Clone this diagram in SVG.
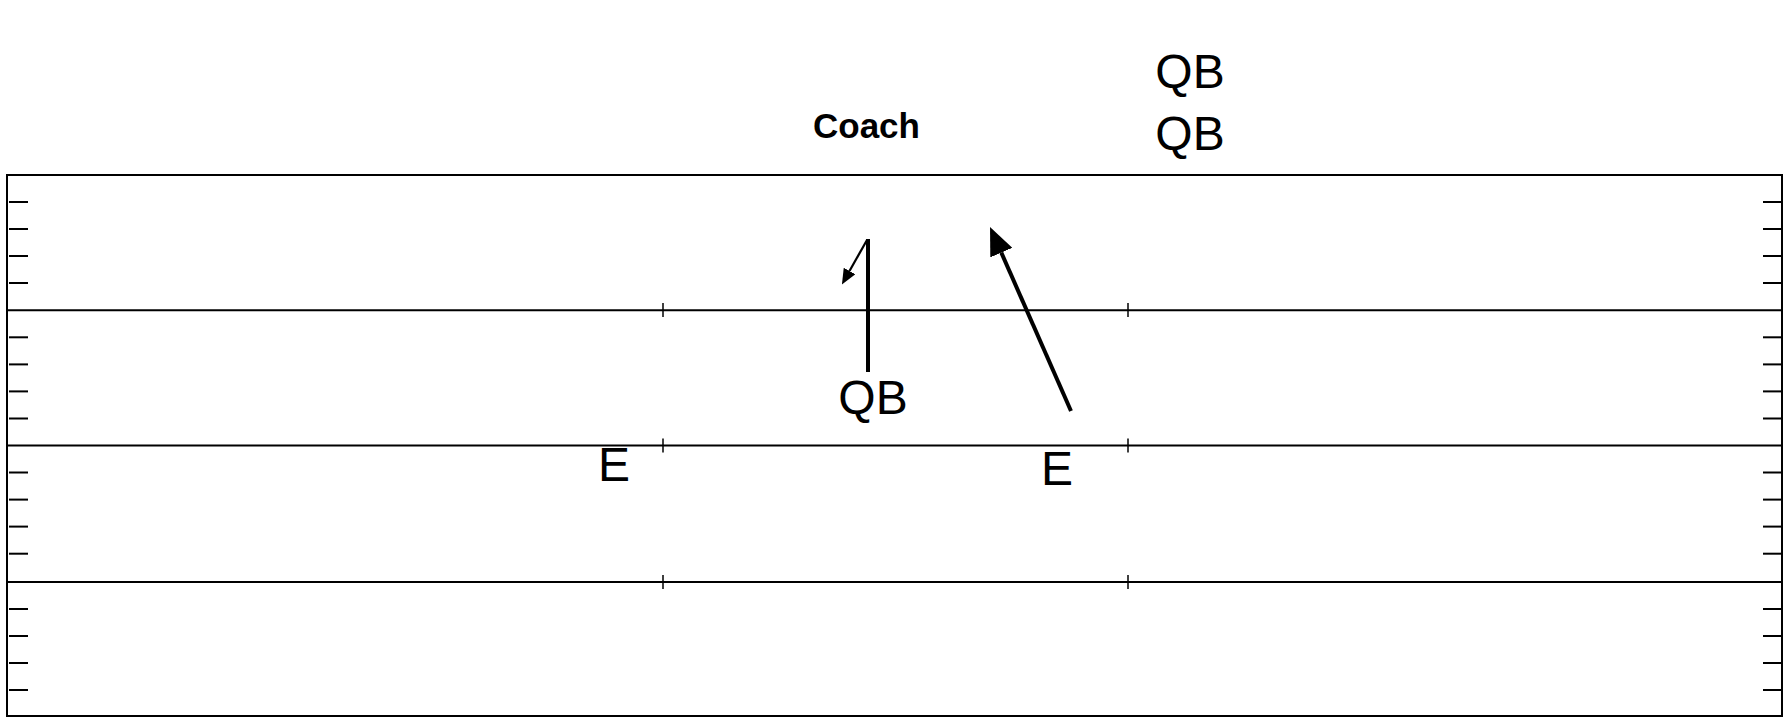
<svg xmlns="http://www.w3.org/2000/svg" width="1791" height="727" viewBox="0 0 1791 727">
  <style>
    .field { fill: none; stroke: #000; stroke-width: 2; }
    .yard { stroke: #000; stroke-width: 2; }
    .tick { stroke: #000; stroke-width: 2; }
    .hash { stroke: #000; stroke-width: 1.5; }
    .lbl { font-family: "Liberation Sans", Arial, sans-serif; font-size: 48px; fill: #000; text-anchor: middle; }
    .coach { font-family: "Liberation Sans", Arial, sans-serif; font-size: 35px; font-weight: bold; fill: #000; }
    .route { fill: none; stroke: #000; stroke-linecap: butt; }
  </style>
  <defs>
    <marker id="head" viewBox="0 0 7 6" refX="0" refY="3" markerWidth="7" markerHeight="6" markerUnits="strokeWidth" orient="auto">
      <path d="M0,0 L7,3 L0,6 Z" fill="#000"/>
    </marker>
  </defs>
  <rect width="1791" height="727" fill="#fff"/>

  <g id="field">
    <rect class="field" x="7" y="175" width="1775" height="541"/>
    <line class="yard" x1="7" y1="310.25" x2="1782" y2="310.25"/>
    <line class="yard" x1="7" y1="445.5" x2="1782" y2="445.5"/>
    <line class="yard" x1="7" y1="582" x2="1782" y2="582"/>
    <g id="hashes">
      <line class="hash" x1="663" y1="303" x2="663" y2="317"/>
      <line class="hash" x1="1128" y1="303" x2="1128" y2="317"/>
      <line class="hash" x1="663" y1="438.5" x2="663" y2="452.5"/>
      <line class="hash" x1="1128" y1="438.5" x2="1128" y2="452.5"/>
      <line class="hash" x1="663" y1="575" x2="663" y2="589"/>
      <line class="hash" x1="1128" y1="575" x2="1128" y2="589"/>
    </g>
    <g id="left-ticks">
      <line class="tick" x1="9" y1="202" x2="28" y2="202"/>
      <line class="tick" x1="9" y1="229" x2="28" y2="229"/>
      <line class="tick" x1="9" y1="256" x2="28" y2="256"/>
      <line class="tick" x1="9" y1="283" x2="28" y2="283"/>
      <line class="tick" x1="9" y1="337.3" x2="28" y2="337.3"/>
      <line class="tick" x1="9" y1="364.4" x2="28" y2="364.4"/>
      <line class="tick" x1="9" y1="391.4" x2="28" y2="391.4"/>
      <line class="tick" x1="9" y1="418.5" x2="28" y2="418.5"/>
      <line class="tick" x1="9" y1="472.5" x2="28" y2="472.5"/>
      <line class="tick" x1="9" y1="499.6" x2="28" y2="499.6"/>
      <line class="tick" x1="9" y1="526.6" x2="28" y2="526.6"/>
      <line class="tick" x1="9" y1="553.7" x2="28" y2="553.7"/>
      <line class="tick" x1="9" y1="609" x2="28" y2="609"/>
      <line class="tick" x1="9" y1="636" x2="28" y2="636"/>
      <line class="tick" x1="9" y1="663" x2="28" y2="663"/>
      <line class="tick" x1="9" y1="690" x2="28" y2="690"/>
    </g>
    <g id="right-ticks">
      <line class="tick" x1="1763" y1="202" x2="1782" y2="202"/>
      <line class="tick" x1="1763" y1="229" x2="1782" y2="229"/>
      <line class="tick" x1="1763" y1="256" x2="1782" y2="256"/>
      <line class="tick" x1="1763" y1="283" x2="1782" y2="283"/>
      <line class="tick" x1="1763" y1="337.3" x2="1782" y2="337.3"/>
      <line class="tick" x1="1763" y1="364.4" x2="1782" y2="364.4"/>
      <line class="tick" x1="1763" y1="391.4" x2="1782" y2="391.4"/>
      <line class="tick" x1="1763" y1="418.5" x2="1782" y2="418.5"/>
      <line class="tick" x1="1763" y1="472.5" x2="1782" y2="472.5"/>
      <line class="tick" x1="1763" y1="499.6" x2="1782" y2="499.6"/>
      <line class="tick" x1="1763" y1="526.6" x2="1782" y2="526.6"/>
      <line class="tick" x1="1763" y1="553.7" x2="1782" y2="553.7"/>
      <line class="tick" x1="1763" y1="609" x2="1782" y2="609"/>
      <line class="tick" x1="1763" y1="636" x2="1782" y2="636"/>
      <line class="tick" x1="1763" y1="663" x2="1782" y2="663"/>
      <line class="tick" x1="1763" y1="690" x2="1782" y2="690"/>
    </g>
  </g>

  <g id="coach"><text class="coach" x="813" y="138">Coach</text></g>
  <g id="qb-top1"><text class="lbl" x="1190" y="88">QB</text></g>
  <g id="qb-top2"><text class="lbl" x="1190" y="150">QB</text></g>
  <g id="qb"><text class="lbl" x="873" y="414">QB</text></g>
  <g id="e-left"><text class="lbl" x="614" y="481">E</text></g>
  <g id="e-right"><text class="lbl" x="1057" y="485">E</text></g>

  <g id="connectors">
    <path class="route" stroke-width="4" d="M868,372 L868,239"/>
    <path class="route" stroke-width="2.2" marker-end="url(#head)" d="M867,240 L849.5,271"/>
    <path class="route" stroke-width="4" marker-end="url(#head)" d="M1071,411 L1001.3,252.6"/>
  </g>
</svg>
